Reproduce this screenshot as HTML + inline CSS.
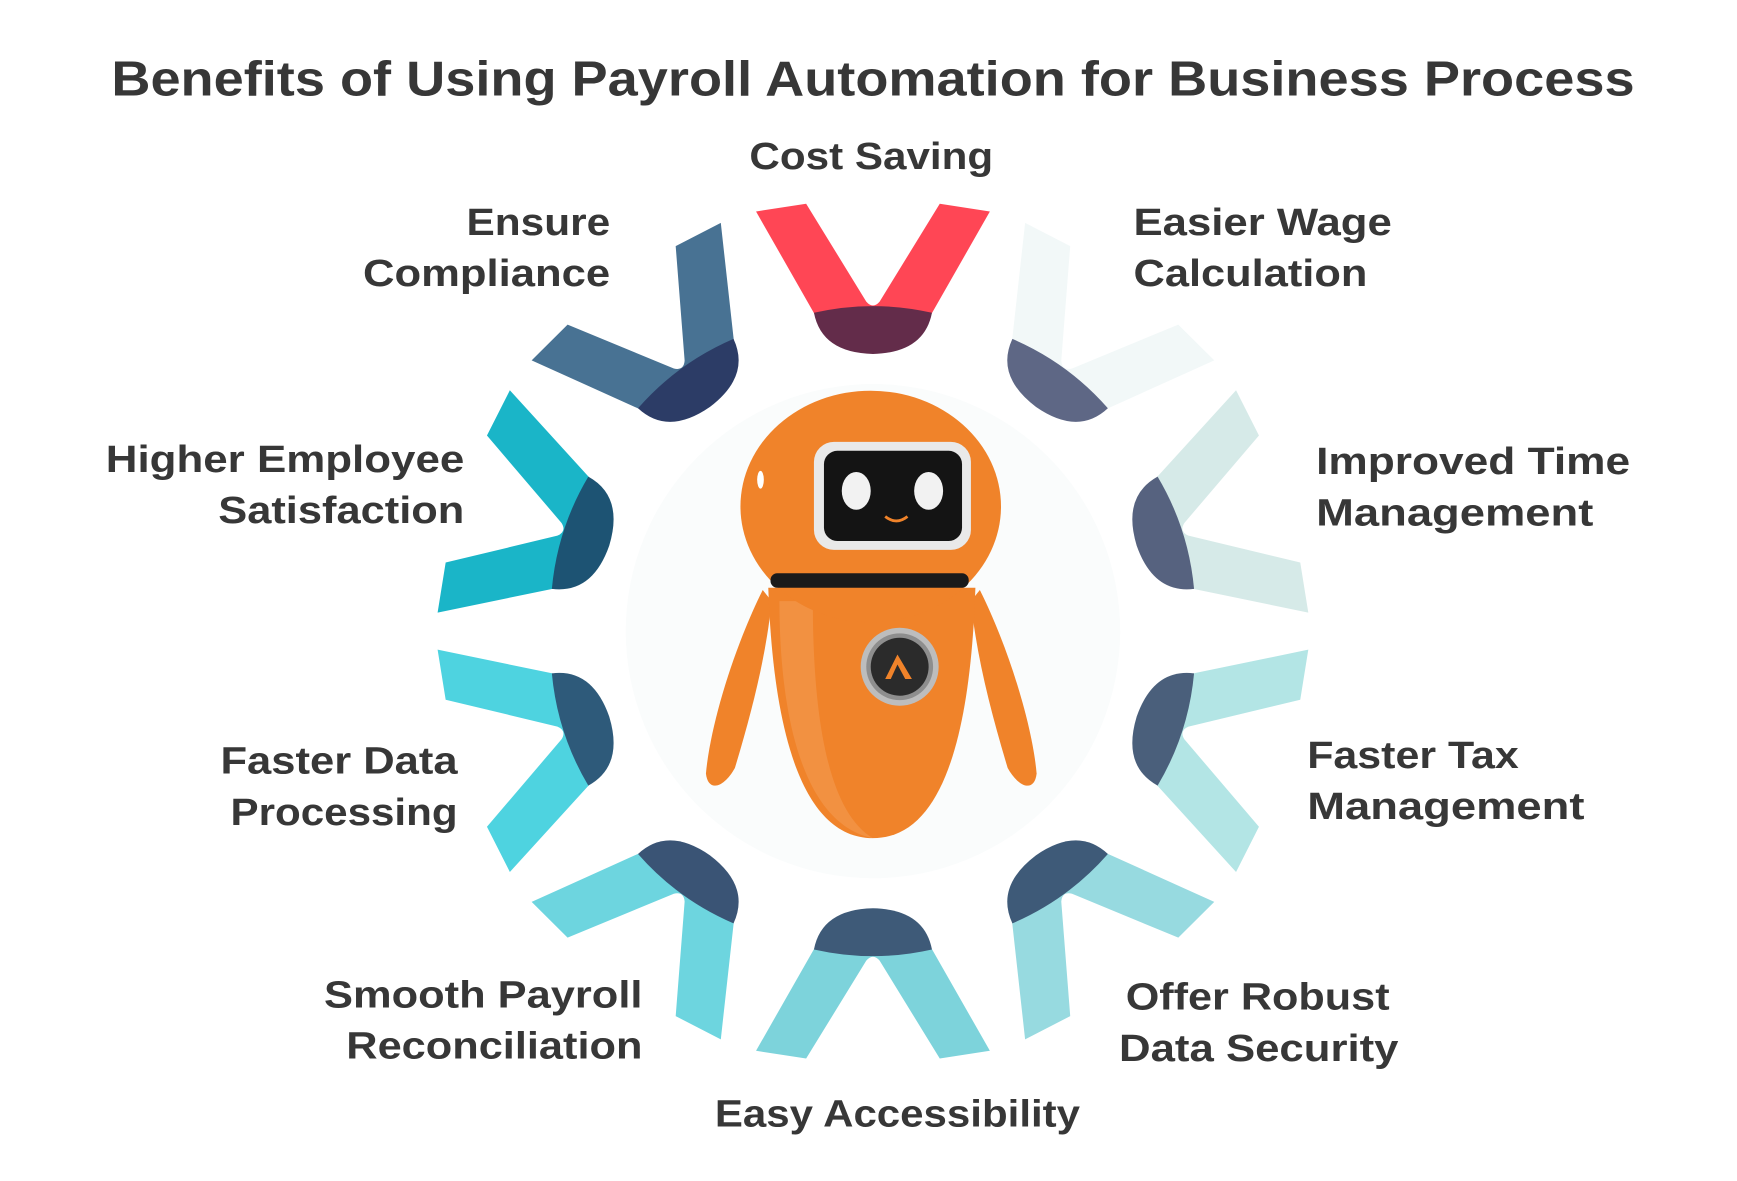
<!DOCTYPE html>
<html><head><meta charset="utf-8"><style>
html,body{margin:0;padding:0;background:#fff;}
svg{display:block;}
text{font-family:"Liberation Sans",sans-serif;font-weight:bold;fill:#373737;}
</style></head><body>
<svg width="1737" height="1181" viewBox="0 0 1560 1061" preserveAspectRatio="none" xmlns="http://www.w3.org/2000/svg">
<defs>
<path id="arm" d="M -105,-377 L -60,-384 L -6,-296 Q 0,-289 6,-296 L 60,-384 L 105,-377 L 52,-284 L -52,-284 Z"/>
<path id="cap" d="M -53,-286 Q 0,-298 53,-286 Q 46,-250 0,-249 Q -46,-250 -53,-286 Z"/>
</defs>
<rect width="1560" height="1061" fill="#fff"/>
<circle cx="784" cy="567" r="222" fill="#fafcfc"/>
<g transform="translate(784,567)">
<g transform="rotate(0)"><use href="#arm" fill="#FF4655"/><use href="#cap" fill="#632C4A"/></g>
<g transform="rotate(36)"><use href="#arm" fill="#F2F8F8"/><use href="#cap" fill="#5E6785"/></g>
<g transform="rotate(72)"><use href="#arm" fill="#D6EAE8"/><use href="#cap" fill="#56627F"/></g>
<g transform="rotate(108)"><use href="#arm" fill="#B3E5E5"/><use href="#cap" fill="#4A5F7B"/></g>
<g transform="rotate(144)"><use href="#arm" fill="#97DAE0"/><use href="#cap" fill="#3E5A78"/></g>
<g transform="rotate(180)"><use href="#arm" fill="#7DD3DB"/><use href="#cap" fill="#3E5A78"/></g>
<g transform="rotate(216)"><use href="#arm" fill="#6DD5DF"/><use href="#cap" fill="#3A5475"/></g>
<g transform="rotate(252)"><use href="#arm" fill="#4ED3E0"/><use href="#cap" fill="#2E5A7A"/></g>
<g transform="rotate(288)"><use href="#arm" fill="#1AB5C8"/><use href="#cap" fill="#1D5373"/></g>
<g transform="rotate(324)"><use href="#arm" fill="#487293"/><use href="#cap" fill="#2C3C66"/></g>
</g>
<!-- robot -->
<path d="M 685,530 C 660,580 638,650 634,695 C 636,712 650,708 660,690 C 675,640 688,590 693,540 Z" fill="#F0832A"/>
<path d="M 880,530 C 905,580 927,650 931,695 C 929,712 915,708 905,690 C 890,640 877,590 872,540 Z" fill="#F0832A"/>
<path d="M 690,528 L 876,528 C 872,650 850,753 784,753 C 718,753 694,650 690,528 Z" fill="#F0832A"/>
<path d="M 700,540 C 700,640 720,740 784,753 C 745,730 730,650 730,540 Z" fill="#F29141"/>
<ellipse cx="782" cy="455" rx="117" ry="104" fill="#F0832A"/>
<rect x="731" y="397" width="141" height="97" rx="18" fill="#e9e9e9"/>
<rect x="740" y="405" width="124" height="81" rx="12" fill="#141414"/>
<ellipse cx="769" cy="441" rx="13" ry="17" fill="#f2f2f2"/>
<ellipse cx="834" cy="441" rx="13" ry="17" fill="#f2f2f2"/>
<path d="M 795,464 Q 805,472 815,464" stroke="#F0832A" stroke-width="2.5" fill="none"/>
<ellipse cx="683" cy="431" rx="3" ry="8" fill="#fff"/>
<rect x="692" y="515" width="178" height="13" rx="6" fill="#1a1a1a"/>
<circle cx="808" cy="599" r="35" fill="#bdbdbd"/>
<circle cx="808" cy="599" r="30" fill="#8e8e8e"/>
<circle cx="808" cy="599" r="26" fill="#2b2b2b"/>
<path d="M 795,610 L 806,588 L 819,610 L 813,610 L 806,597 L 800,610 Z" fill="#F0832A"/>
<!-- texts -->
<text x="784" y="86" font-size="44" text-anchor="middle" textLength="1368" lengthAdjust="spacingAndGlyphs">Benefits of Using Payroll Automation for Business Process</text>
<g font-size="34">
<text x="673" y="152" textLength="219" lengthAdjust="spacingAndGlyphs">Cost Saving</text>
<text x="548" y="211" text-anchor="end" textLength="129" lengthAdjust="spacingAndGlyphs">Ensure</text>
<text x="548" y="257" text-anchor="end" textLength="222" lengthAdjust="spacingAndGlyphs">Compliance</text>
<text x="1018" y="211" textLength="232" lengthAdjust="spacingAndGlyphs">Easier Wage</text>
<text x="1018" y="257" textLength="210" lengthAdjust="spacingAndGlyphs">Calculation</text>
<text x="417" y="424" text-anchor="end" textLength="322" lengthAdjust="spacingAndGlyphs">Higher Employee</text>
<text x="417" y="470" text-anchor="end" textLength="221" lengthAdjust="spacingAndGlyphs">Satisfaction</text>
<text x="1182" y="426" textLength="282" lengthAdjust="spacingAndGlyphs">Improved Time</text>
<text x="1182" y="472" textLength="249" lengthAdjust="spacingAndGlyphs">Management</text>
<text x="411" y="695" text-anchor="end" textLength="213" lengthAdjust="spacingAndGlyphs">Faster Data</text>
<text x="411" y="741" text-anchor="end" textLength="204" lengthAdjust="spacingAndGlyphs">Processing</text>
<text x="1174" y="690" textLength="190" lengthAdjust="spacingAndGlyphs">Faster Tax</text>
<text x="1174" y="736" textLength="249" lengthAdjust="spacingAndGlyphs">Management</text>
<text x="577" y="905" text-anchor="end" textLength="286" lengthAdjust="spacingAndGlyphs">Smooth Payroll</text>
<text x="577" y="951" text-anchor="end" textLength="266" lengthAdjust="spacingAndGlyphs">Reconciliation</text>
<text x="1011" y="907" textLength="237" lengthAdjust="spacingAndGlyphs">Offer Robust</text>
<text x="1005" y="953" textLength="251" lengthAdjust="spacingAndGlyphs">Data Security</text>
<text x="642" y="1012" textLength="328" lengthAdjust="spacingAndGlyphs">Easy Accessibility</text>
</g>
</svg>
</body></html>
